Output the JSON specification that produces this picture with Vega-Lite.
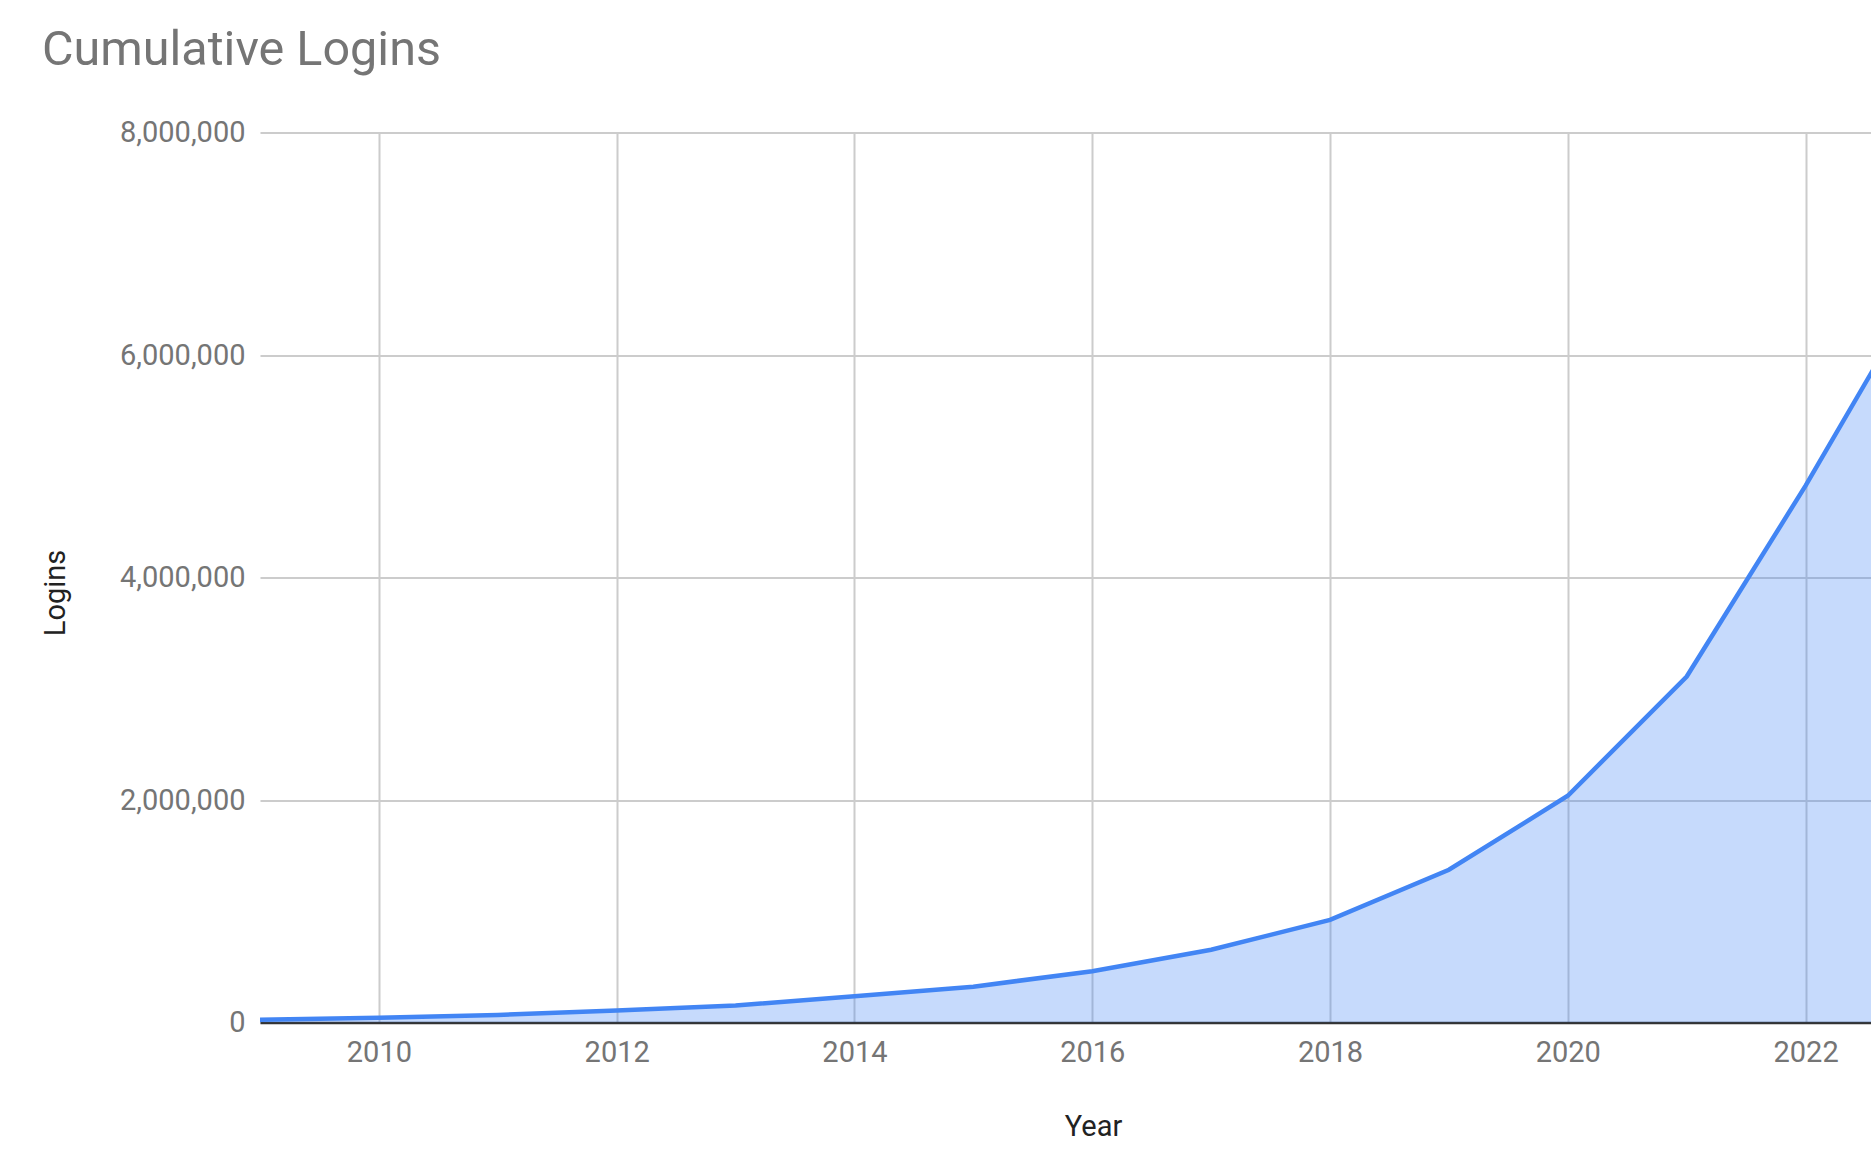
{
  "$schema": "https://vega.github.io/schema/vega-lite/v6.json",
  "autosize": {"type": "none"},
  "width": 1611,
  "height": 890,
  "padding": {"left": 260, "top": 132.5, "right": 0, "bottom": 153.5},
  "background": "white",
  "title": {
    "text": "Cumulative Logins",
    "anchor": "start",
    "frame": "group",
    "dx": -218,
    "baseline": "alphabetic",
    "offset": 5,
    "font": "Roboto",
    "fontSize": 48.5,
    "fontWeight": "normal",
    "color": "#757575"
  },
  "config": {
    "view": {"stroke": null},
    "axis": {
      "labelFont": "Roboto",
      "titleFont": "Roboto",
      "labelFontSize": 29,
      "titleFontSize": 29,
      "labelColor": "#757575",
      "titleColor": "#222222",
      "titleFontWeight": "normal",
      "gridColor": "#cccccc",
      "gridWidth": 2,
      "ticks": false,
      "tickSize": 0
    }
  },
  "data": {
    "values": [
      {"Year": 2009, "Logins": 25000},
      {"Year": 2010, "Logins": 43000},
      {"Year": 2011, "Logins": 68000},
      {"Year": 2012, "Logins": 107000},
      {"Year": 2013, "Logins": 152000},
      {"Year": 2014, "Logins": 236000},
      {"Year": 2015, "Logins": 322000},
      {"Year": 2016, "Logins": 461000},
      {"Year": 2017, "Logins": 654000},
      {"Year": 2018, "Logins": 922000},
      {"Year": 2019, "Logins": 1373000},
      {"Year": 2020, "Logins": 2038000},
      {"Year": 2021, "Logins": 3110000},
      {"Year": 2022, "Logins": 4826000},
      {"Year": 2023, "Logins": 6660000}
    ]
  },
  "encoding": {
    "x": {
      "field": "Year",
      "type": "quantitative",
      "scale": {"domain": [2009, 2022.55], "nice": false, "zero": false},
      "axis": {
        "values": [2010, 2012, 2014, 2016, 2018, 2020, 2022],
        "format": "d",
        "labelPadding": 30,
        "labelBaseline": "middle",
        "domain": true,
        "domainColor": "#333333",
        "domainWidth": 2.5,
        "title": "Year",
        "titleX": 833,
        "titleY": 104,
        "titleBaseline": "middle"
      }
    },
    "y": {
      "field": "Logins",
      "type": "quantitative",
      "scale": {"domain": [0, 8000000], "nice": false},
      "axis": {
        "values": [0, 2000000, 4000000, 6000000, 8000000],
        "format": ",d",
        "labelPadding": 15,
        "domain": false,
        "title": "Logins",
        "titleAngle": -90,
        "titleX": -205,
        "titleY": 460,
        "titleBaseline": "middle",
        "titleAlign": "center"
      }
    }
  },
  "layer": [
    {"mark": {"type": "area", "color": "#4285F4", "opacity": 0.3, "clip": true}},
    {"mark": {"type": "line", "color": "#4285F4", "strokeWidth": 4.5, "clip": true}}
  ]
}
